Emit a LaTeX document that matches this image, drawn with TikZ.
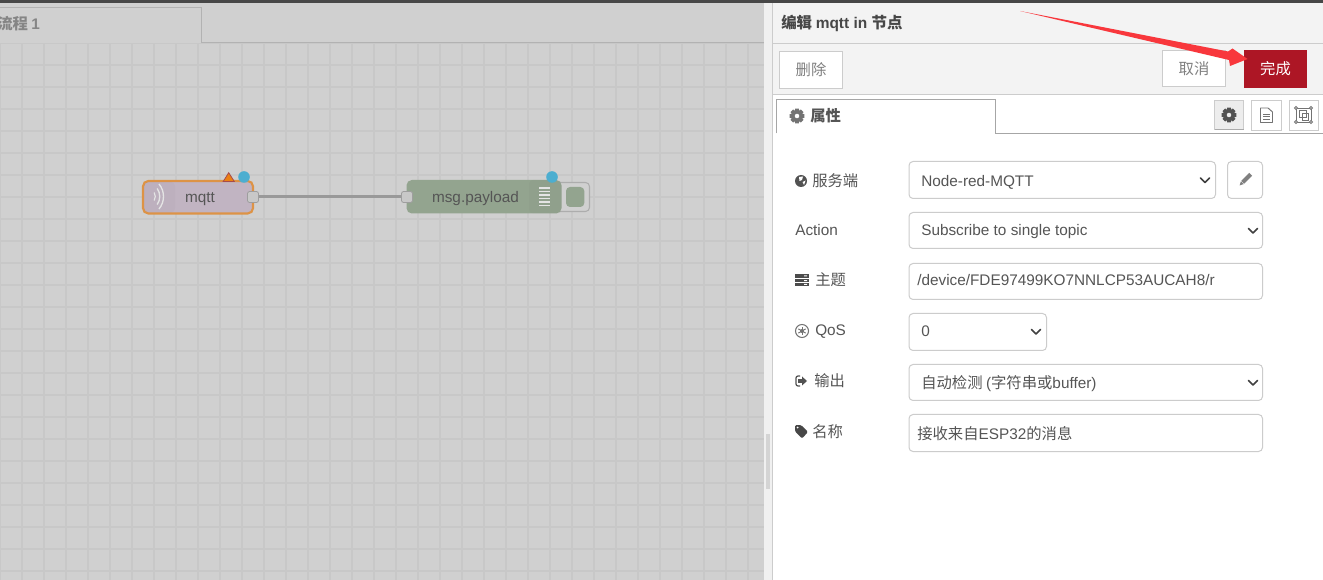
\documentclass[tikz,border=0pt]{standalone}
\usepackage{fontspec}
\setmainfont{Liberation Sans}
\newfontfamily\cjk{Noto Sans CJK SC}
\usetikzlibrary{calc}
\definecolor{canvas}{HTML}{D0D0D0}
\definecolor{gridc}{HTML}{C8C8C8}
\definecolor{panel}{HTML}{F3F3F3}
\definecolor{edge}{HTML}{CCCCCC}
\definecolor{txt}{HTML}{555555}
\definecolor{done}{HTML}{AD1625}
\definecolor{redarrow}{HTML}{F8373C}
\definecolor{mqttfill}{HTML}{C1B4C2}
\definecolor{mqttedge}{HTML}{DD9346}
\definecolor{dbgfill}{HTML}{93A48F}
\definecolor{dotc}{HTML}{4CAED0}
\definecolor{wirec}{HTML}{999999}
\definecolor{portc}{HTML}{C8C8C8}
\definecolor{iconw}{HTML}{E4E4E4}
\tikzset{x=0.75pt,y=-0.75pt,
 lab/.style={inner sep=0,anchor=base west,text=txt,font=\fontsize{11.5pt}{13pt}\selectfont},
 field/.style={draw=edge,line width=0.75pt,fill=white,rounded corners=3pt},
 btn/.style={draw=edge,line width=0.75pt,fill=white},
 port/.style={draw=black!38,fill=portc,line width=0.6pt,rounded corners=1.5pt,minimum size=8.2pt,inner sep=0},
 captxt/.style={inner sep=0,font=\fontsize{11.5pt}{13pt}\selectfont},
}
\newcommand{\chev}[2]{\draw[black!75,line width=1.3pt,line cap=round,line join=round] (#1-4.5,#2-2.5) -- (#1,#2+2) -- (#1+4.5,#2-2.5);}
\newcommand{\gearicon}[3]{\begin{scope}[shift={(#1,#2)}]
 \foreach \a in {0,45,...,315}{\fill[#3] (\a:7.4) ++(\a+90:1.8) -- ++(\a-90:3.6) -- ($(\a:4)+(\a-90:2.5)$) -- ($(\a:4)+(\a+90:2.5)$) -- cycle;}
 \fill[#3,even odd rule] (0,0) circle (5.6) (0,0) circle (2.4);
 \end{scope}}
\begin{document}
\begin{tikzpicture}
\useasboundingbox (0,0) rectangle (1323,580);
% canvas
\fill[canvas] (0,0) rectangle (764,580);
\foreach \x in {0,22,...,760}{\draw[gridc,line width=1pt] (\x,43) -- (\x,580);}
\foreach \y in {43,65,...,579}{\draw[gridc,line width=1pt] (0,\y) -- (764,\y);}
\fill[canvas] (0,3) rectangle (201.5,43);
\fill[canvas] (201.5,3) rectangle (764,42);
% tab
\draw[black!30,line width=0.75pt] (0,7.5) -- (201.5,7.5) -- (201.5,42.5) -- (764,42.5);
\node[captxt,anchor=base west,text=black!48,font=\fontsize{11.5pt}{13pt}\selectfont\bfseries] (tabt) at (-3,29.5) {\cjk 流程 \rmfamily 1};
% top bar
\fill[black!72] (0,0) rectangle (1323,3.3);
% flow nodes
\draw[draw=mqttedge,fill=mqttfill,line width=1.6pt,rounded corners=4pt] (143,181) rectangle (253,213.5);
\fill[black,opacity=.02,rounded corners=3pt] (144,182) rectangle (175,212.5);
\draw[iconw,line width=.9pt] (154.2,192.5) arc (-30:30:8);
\draw[iconw,line width=1pt] (157.2,188.5) arc (-35:35:14);
\draw[iconw,line width=1pt] (159,184) arc (-39.6:39.6:19.6);
\node[captxt,anchor=base,text=txt] (mq) at (200,203) {mqtt};
\draw[draw=red!50!black!70,fill=orange!70!brown,line width=.6pt] (223.2,181.5) -- (228.7,172.7) -- (234.3,181.5) -- cycle;
\fill[dotc] (244,177) circle (5.8);
% debug button + node
\draw[draw=black!32,fill=canvas,line width=.8pt,rounded corners=3pt] (555,182.5) rectangle (589.5,211.5);
\fill[dbgfill,rounded corners=3pt] (566,187) rectangle (584.3,207);
\fill[dbgfill,rounded corners=4pt] (406.5,180) rectangle (561.5,213.5);
\fill[black,opacity=.02,rounded corners=3pt] (529,180) rectangle (561.5,213.5);
\foreach \y in {188,191.5,195,198.5,202,205.5}{\draw[iconw,line width=1pt] (539,\y) -- (550,\y);}
\node[captxt,anchor=base,text=txt] (mp) at (475.5,203) {msg.payload};
\fill[dotc] (552,177) circle (5.8);
% wire & ports
\node[port] (out) at (253,197) {};
\node[port] (in) at (407,197) {};
\draw[wirec,line width=2.25pt] (out) -- (in);
% sidebar separator
\fill[white] (764,3.3) rectangle (1323,580);
\fill[black!6] (764,3.3) rectangle (772.5,580);
\draw[edge,line width=.75pt] (772.5,3.3) -- (772.5,580);
\fill[black!17] (766,434) rectangle (770,489);
% panel header
\fill[panel] (773,3.3) rectangle (1323,94);
\draw[edge,line width=.75pt] (773,43.5) -- (1323,43.5);
\draw[edge,line width=.75pt] (773,94.5) -- (1323,94.5);
\node[captxt,anchor=base west,text=black!72,font=\fontsize{11.6pt}{13pt}\selectfont\bfseries] (title) at (781,29) {\cjk 编辑 \rmfamily mqtt in \cjk 节点};
\node[btn,captxt,minimum width=47.5pt,minimum height=27.5pt,text=black!50] (del) at (811,70) {\cjk 删除};
\node[btn,captxt,minimum width=47.5pt,minimum height=27pt,text=black!50] (cancel) at (1194,69) {\cjk 取消};
\node[captxt,fill=done,minimum width=47.5pt,minimum height=28.5pt,text=white] (ok) at (1275.5,69) {\cjk 完成};
% tab row
\draw[black!35,line width=.75pt] (776,133.5) -- (776,99.5) -- (995.5,99.5) -- (995.5,133.5) -- (1323,133.5);
\gearicon{797}{116}{black!55}
\node[captxt,anchor=base west,text=txt,font=\fontsize{11.5pt}{13pt}\selectfont\bfseries] (prop) at (810,122) {\cjk 属性};
\draw[edge,fill=black!7,line width=.75pt] (1214.5,100.5) rectangle (1243.5,129.5);
\draw[black!33,line width=1.2pt] (1214.5,129.5) -- (1243.5,129.5);
\gearicon{1229}{115}{black!68}
\draw[btn] (1251.5,100.5) rectangle (1281.5,130.5);
\draw[black!55,line width=.7pt,line join=round] (1260.5,108) -- (1268,108) -- (1272.5,112) -- (1272.5,122.5) -- (1260.5,122.5) -- cycle;
\foreach \y in {114,116.5,119}{\draw[black!55,line width=.6pt] (1263,\y) -- (1270,\y);}
\draw[btn] (1289.5,100.5) rectangle (1318.5,130.5);
\draw[black!55,line width=.7pt] (1296,108) rectangle (1311,122);
\draw[black!55,line width=.7pt] (1299,110.5) rectangle (1306,117.5) (1302,113.5) rectangle (1308.5,120);
\foreach \a/\b in {1296/108,1311/108,1296/122,1311/122}{\draw[black!55,fill=white,line width=.6pt] (\a,\b) circle (1.5);}
% form fields
\node[lab] (l1) at (812,187) {\cjk 服务端};
\node[lab] (l2) at (795,236) {Action};
\node[lab] (l3) at (815,286) {\cjk 主题};
\node[lab] (l4) at (815,336) {QoS};
\node[lab] (l5) at (814,387) {\cjk 输出};
\node[lab] (l6) at (812,437) {\cjk 名称};
\draw[field] (909,161.5) rectangle (1215.5,198.5);
\node[lab] (v1) at (921,186.5) {Node-red-MQTT};
\chev{1205}{180.5}
\draw[btn,rounded corners=3pt] (1227.5,161.5) rectangle (1262.5,198.5);
\begin{scope}[shift={(1245,180)},rotate=-45]
\fill[black!50] (-2,-8) rectangle (2,3.2);
\fill[black!50] (-2,3.8) -- (2,3.8) -- (0,7.6) -- cycle;
\end{scope}
\draw[field] (909,212.5) rectangle (1262.5,248.5);
\node[lab] (v2) at (921,236) {Subscribe to single topic};
\chev{1253}{231}
\draw[field] (909,263.5) rectangle (1262.5,299.5);
\node[lab] (v3) at (917,286) {/device/FDE97499KO7NNLCP53AUCAH8/r};
\draw[field] (909,313.5) rectangle (1046.5,350.5);
\node[lab] (v4) at (921,337) {0};
\chev{1036}{332}
\draw[field] (909,364.5) rectangle (1262.5,400.5);
\node[lab] (v5) at (921,388.5) {\cjk 自动检测 \rmfamily (\cjk 字符串或\rmfamily buffer)};
\chev{1253}{383}
\draw[field] (909,414.5) rectangle (1262.5,451.5);
\node[lab] (v6) at (917,439) {\cjk 接收来自\rmfamily ESP32\cjk 的消息};
% form icons
\fill[black!68] (801,181) circle (6);
\fill[white] (799,177) -- (803,176.5) -- (802,180) -- (799.5,181) -- cycle;
\fill[white] (802.5,182) -- (805.5,180.5) -- (804,185) -- cycle;
\fill[black!70] (795,274.5) rectangle (809,278);
\fill[black!70] (795,279.5) rectangle (809,282);
\fill[black!70] (795,283) rectangle (809,286);
\fill[white] (804,275.5) rectangle (807,276.5) (804,280.2) rectangle (807,281.2) (804,284) rectangle (807,285);
\draw[black!55,line width=.8pt] (802,331) circle (6.5);
\fill[black!55] (802,331) circle (2);
\foreach \a in {0,60,...,300}{\draw[black!55,line width=.7pt] (802,331) -- ++(\a+90:4.2);}
\draw[black!68,line width=.9pt,rounded corners=1.5pt] (800,376) -- (796,376) -- (796,386) -- (800,386);
\fill[black!68] (798,379.2) -- (802,379.2) -- (802,376.5) -- (807,381) -- (802,385.5) -- (802,382.8) -- (798,382.8) -- cycle;
\fill[black!72,rounded corners=1pt] (795,425) -- (801,425) -- (808,432) -- (802,438.5) -- (795,431.5) -- cycle;
\fill[white] (797.5,427.5) circle (1);
% red annotation arrow
\fill[redarrow] (1020,11) -- (1228,51.5) -- (1232.5,48.5) -- (1247.5,59) -- (1230,66) -- (1229,60) -- cycle;
\end{tikzpicture}
\end{document}
